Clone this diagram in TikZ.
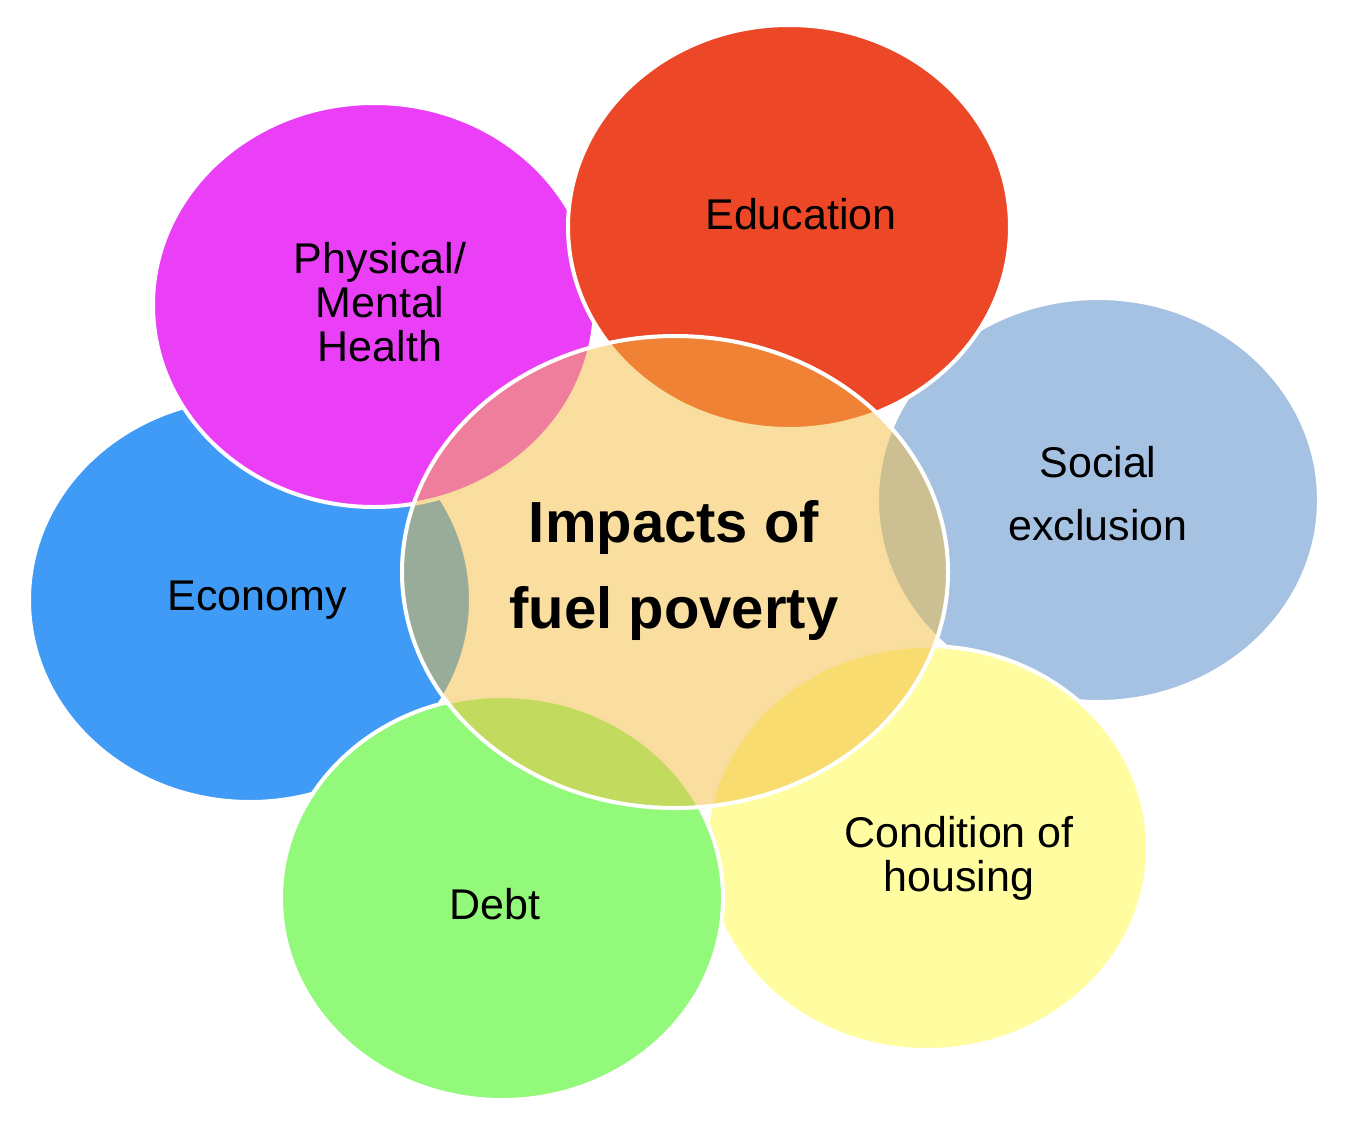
\documentclass[tikz,border=0pt]{standalone}
\usepackage{fontspec}
\setmainfont{Liberation Sans}
\usetikzlibrary{shapes.geometric}

\definecolor{healthcol}{RGB}{234,63,247}
\definecolor{educol}{RGB}{236,71,39}
\definecolor{socialcol}{RGB}{165,194,226}
\definecolor{econcol}{RGB}{63,155,245}
\definecolor{debtcol}{RGB}{146,249,122}
\definecolor{housecol}{RGB}{255,253,160}
\definecolor{fuelcol}{RGB}{243,189,65}

\tikzstyle{bubble}=[ellipse,draw=white,line width=4pt,minimum width=442pt,minimum height=404pt,inner sep=0pt]
\tikzstyle{hub}=[ellipse,draw=white,line width=4pt,fill=fuelcol,fill opacity=0.5,draw opacity=1,minimum width=546pt,minimum height=472pt,inner sep=0pt]
\tikzstyle{label}=[align=center,inner sep=0pt,font=\fontsize{43}{44}\selectfont]

\begin{document}
\begin{tikzpicture}[x=1pt, y=-1pt]
    \useasboundingbox (0,0) rectangle (1354,1138);
    % First we draw the outer bubbles
    \foreach \pos/\name/\col in {{(250,600)/econ/econcol}, {(374,305)/health/healthcol},
        {(1098,500)/social/socialcol}, {(789,227)/edu/educol},
        {(927,848)/house/housecol}, {(502,898)/debt/debtcol}}
        \node[bubble, fill=\col] (\name) at \pos {};
    % The centre bubble sits on top of them
    \node[hub] (fuel) at (675,572) {};
    % Labels
    \node[label] (lhealth) at (380,302) {Physical/\\Mental\\Health};
    \node[label] (ledu) at (801,214) {Education};
    \node[label, font=\fontsize{43}{63}\selectfont] (lsocial) at (1098,494) {Social\\exclusion};
    \node[label] (lecon) at (257,600) {Economy};
    \node[label] (ldebt) at (495,904) {Debt};
    \node[label] (lhouse) at (959,858) {Condition of\\housing};
    \node[label, font=\bfseries\fontsize{58}{86}\selectfont] (lfuel) at (674,570) {Impacts of\\fuel poverty};
\end{tikzpicture}
\end{document}
